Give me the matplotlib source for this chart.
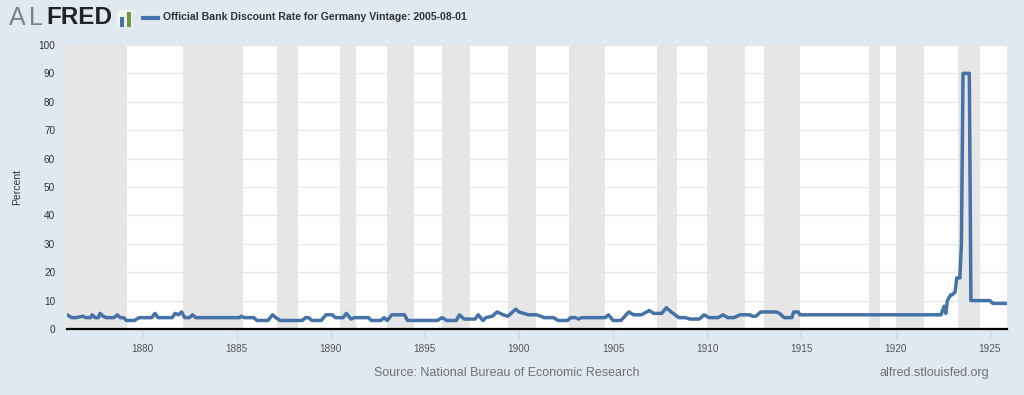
import matplotlib
matplotlib.use("Agg")
import matplotlib.pyplot as plt
from matplotlib.patches import Rectangle
import pandas as pd

# ---- data ----
months = [
    "1876-01", "1876-04", "1876-07", "1876-11", "1877-01", "1877-04", "1877-05", "1877-07",
    "1877-09", "1877-10", "1877-12", "1878-02", "1878-07", "1878-09", "1878-11", "1879-01",
    "1879-03", "1879-08", "1879-11", "1880-07", "1880-09", "1880-11", "1881-08", "1881-10",
    "1881-12", "1882-02", "1882-04", "1882-07", "1882-09", "1882-11", "1885-03", "1885-04",
    "1885-06", "1885-12", "1886-02", "1886-09", "1886-12", "1887-02", "1887-05", "1888-07",
    "1888-09", "1888-11", "1889-01", "1889-07", "1889-10", "1890-02", "1890-04", "1890-09",
    "1890-11", "1891-02", "1891-04", "1892-01", "1892-03", "1892-09", "1892-11", "1893-01",
    "1893-04", "1893-12", "1894-02", "1895-09", "1895-12", "1896-03", "1896-09", "1896-11",
    "1897-02", "1897-09", "1897-11", "1898-02", "1898-04", "1898-08", "1898-11", "1899-03",
    "1899-06", "1899-11", "1900-01", "1900-04", "1900-07", "1900-12", "1901-03", "1901-05",
    "1901-11", "1902-02", "1902-08", "1902-10", "1903-01", "1903-03", "1903-05", "1904-08",
    "1904-10", "1905-01", "1905-06", "1905-11", "1906-02", "1906-07", "1906-12", "1907-03",
    "1907-08", "1907-11", "1908-02", "1908-07", "1908-11", "1909-02", "1909-08", "1909-11",
    "1910-02", "1910-08", "1910-11", "1911-02", "1911-06", "1911-10", "1912-04", "1912-06",
    "1912-08", "1912-11", "1913-09", "1913-11", "1914-01", "1914-02", "1914-07", "1914-08",
    "1914-11", "1914-12", "1922-06", "1922-08", "1922-09", "1922-10", "1922-12", "1923-01",
    "1923-03", "1923-04", "1923-06", "1923-07", "1923-08", "1923-12", "1924-01", "1925-01",
    "1925-03", "1925-12",
]
rates = [
    5.0, 4.0, 4.0, 4.5, 4.0, 4.0, 5.0, 4.0,
    4.0, 5.5, 4.5, 4.0, 4.0, 5.0, 4.0, 4.0,
    3.0, 3.0, 4.0, 4.0, 5.5, 4.0, 4.0, 5.5,
    5.0, 6.0, 4.0, 4.0, 5.0, 4.0, 4.0, 4.5,
    4.0, 4.0, 3.0, 3.0, 5.0, 4.0, 3.0, 3.0,
    4.0, 4.0, 3.0, 3.0, 5.0, 5.0, 4.0, 4.0,
    5.5, 3.5, 4.0, 4.0, 3.0, 3.0, 4.0, 3.0,
    5.0, 5.0, 3.0, 3.0, 4.0, 3.0, 3.0, 5.0,
    3.5, 3.5, 5.0, 3.0, 4.0, 4.5, 6.0, 5.0,
    4.5, 7.0, 6.0, 5.5, 5.0, 5.0, 4.5, 4.0,
    4.0, 3.0, 3.0, 4.0, 4.0, 3.5, 4.0, 4.0,
    5.0, 3.0, 3.0, 6.0, 5.0, 5.0, 6.5, 5.5,
    5.5, 7.5, 6.0, 4.0, 4.0, 3.5, 3.5, 5.0,
    4.0, 4.0, 5.0, 4.0, 4.0, 5.0, 5.0, 4.5,
    4.5, 6.0, 6.0, 5.5, 4.5, 4.0, 4.0, 6.0,
    6.0, 5.0, 5.0, 8.0, 5.5, 10.0, 12.0, 12.0,
    13.0, 18.0, 18.0, 30.0, 90.0, 90.0, 10.0, 10.0,
    9.0, 9.0,
]

# NBER recession periods (shaded)
rec_start = ["1873-10", "1882-03", "1887-03", "1890-07", "1893-01", "1895-12", "1899-06",
             "1902-09", "1907-05", "1910-01", "1913-01", "1918-08", "1920-01", "1923-05"]
rec_end = ["1879-03", "1885-05", "1888-04", "1891-05", "1894-06", "1897-06", "1900-12",
           "1904-08", "1908-06", "1912-01", "1914-12", "1919-03", "1921-07", "1924-07"]

y_ticks = list(range(0, 101, 10))
x_tick_years = list(range(1880, 1926, 5))

series_label = "Official Bank Discount Rate for Germany Vintage: 2005-08-01"
source_text = "Source: National Bureau of Economic Research"
site_text = "alfred.stlouisfed.org"

# ---- styling ----
BG = "#e1e9f0"
LINE = "#4572a7"
SHADE = "#e6e6e6"
plt.rcParams["font.family"] = ["Liberation Sans", "DejaVu Sans"]

W, H = 1024, 395
fig = plt.figure(figsize=(W / 100, H / 100), dpi=100, facecolor=BG)

ax_l, ax_r, ax_t, ax_b = 67, 1007, 45, 329
ax = fig.add_axes([ax_l / W, 1 - ax_b / H, (ax_r - ax_l) / W, (ax_b - ax_t) / H])
ax.set_facecolor("white")

xmin = pd.Timestamp("1876-01-01")
xmax = pd.Timestamp("1925-12-01")

for s, e in zip(rec_start, rec_end):
    s_ts = max(pd.Timestamp(s + "-01"), xmin)
    e_ts = min(pd.Timestamp(e + "-01"), xmax)
    ax.axvspan(s_ts, e_ts, color=SHADE, lw=0, zorder=0)

for y in y_ticks[1:]:
    ax.axhline(y, color="#e6e6e6", lw=1, zorder=0.5)

dates = pd.to_datetime([m + "-01" for m in months])
ax.plot(dates, rates, color=LINE, lw=2.5, solid_joinstyle="round", zorder=3)

ax.set_xlim(xmin, xmax)
ax.set_ylim(0, 100)

ax.set_yticks(y_ticks)
ax.set_yticklabels([str(v) for v in y_ticks])
ax.tick_params(axis="y", length=0, pad=8.5, labelsize=7.2, labelcolor="#333333")

ax.set_xticks([pd.Timestamp(f"{y}-01-01") for y in x_tick_years])
ax.set_xticklabels([str(y) for y in x_tick_years])
ax.tick_params(axis="x", length=7, width=1, color="#ccd6eb", pad=4,
               labelsize=7.2, labelcolor="#555555")

for side in ["top", "right", "left"]:
    ax.spines[side].set_visible(False)
ax.spines["bottom"].set_color("#000000")
ax.spines["bottom"].set_linewidth(1.6)
ax.spines["bottom"].set_zorder(4)

fig.text(17 / W, 1 - 187 / H, "Percent", rotation=90, ha="center", va="center",
         fontsize=7.5, color="#333333")

# ---- header: logo + legend ----
fig.text(9 / W, 1 - 18 / H, "A", fontsize=18, color="#808080", ha="left", va="center")
fig.text(29 / W, 1 - 18 / H, "L", fontsize=18, color="#808080", ha="left", va="center")
fig.text(46 / W, 1 - 18 / H, "FRED", fontsize=17.5, color="#222222", fontweight="bold",
         ha="left", va="center")
fig.patches.append(Rectangle((117 / W, 1 - 27 / H), 16 / W, 17 / H, transform=fig.transFigure,
                             facecolor="#f2f2f2", edgecolor="none"))
fig.patches.append(Rectangle((120 / W, 1 - 27 / H), 4 / W, 10 / H, transform=fig.transFigure,
                             facecolor="#4572a7", edgecolor="none"))
fig.patches.append(Rectangle((127 / W, 1 - 27 / H), 4 / W, 15 / H, transform=fig.transFigure,
                             facecolor="#6a9a3a", edgecolor="none"))

fig.lines.append(plt.Line2D([143 / W, 158 / W], [1 - 17.5 / H, 1 - 17.5 / H],
                            transform=fig.transFigure, color=LINE, lw=3))
fig.text(163 / W, 1 - 17.5 / H, series_label, fontsize=7.6, fontweight="bold",
         color="#333333", ha="left", va="center")

# ---- footer ----
fig.text(507 / W, 1 - 373 / H, source_text, fontsize=9, color="#707070",
         ha="center", va="center")
fig.text(989 / W, 1 - 373 / H, site_text, fontsize=9, color="#707070",
         ha="right", va="center")

fig.savefig("out.png", dpi=100, facecolor=BG)
